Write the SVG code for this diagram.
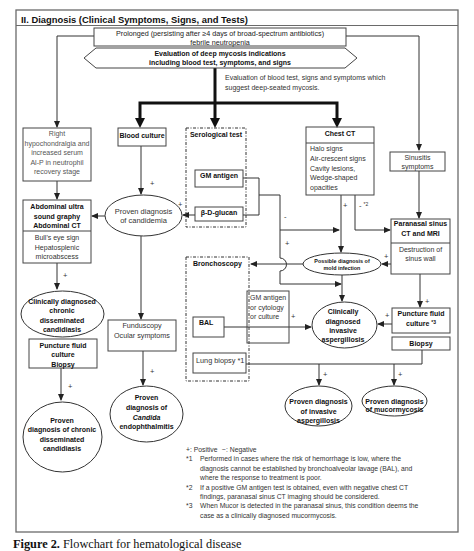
<svg xmlns="http://www.w3.org/2000/svg" width="474" height="551" viewBox="0 0 474 551">
<style>
text{font-family:"Liberation Sans",Arial,sans-serif;font-size:7px;fill:#333}
.b{font-weight:bold;fill:#111}
.c{text-anchor:middle}
.box{fill:none;stroke:#444;stroke-width:1}
.dash{fill:none;stroke:#333;stroke-width:1;stroke-dasharray:3,1.5,1,1.5}
.ell{fill:#fff;stroke:#333;stroke-width:1}
.ln{fill:none;stroke:#333;stroke-width:1}
.ar{marker-end:url(#ah)}
.thick{fill:none;stroke:#111;stroke-width:3}
.pm{font-size:7.5px}
.lg{font-size:6.8px}
</style>
<defs>
<marker id="ah" markerUnits="userSpaceOnUse" markerWidth="7" markerHeight="6" refX="6" refY="3" orient="auto"><path d="M0,0 L7,3 L0,6 z" fill="#222"/></marker>
<marker id="ahb" markerUnits="userSpaceOnUse" markerWidth="10" markerHeight="10" refX="6" refY="5" orient="auto"><path d="M0,0 L10,5 L0,10 z" fill="#111"/></marker>
</defs>
<rect x="0" y="0" width="474" height="551" fill="#fff"/>
<g id="frame">
<rect x="16" y="10" width="442" height="522" fill="#fff" stroke="#6a6a6a" stroke-width="1.3"/>
<line x1="16" y1="25.5" x2="458" y2="25.5" stroke="#6a6a6a" stroke-width="1"/>
<text x="21" y="22.5" class="b" style="font-size:9.4px">II. Diagnosis (Clinical Symptoms, Signs, and Tests)</text>
</g>
<g id="connectors">
<path class="thick" d="M215,68 V103"/>
<path class="thick" d="M215,103 H140 V124" marker-end="url(#ahb)"/>
<path class="thick" d="M215,103 H337 V124" marker-end="url(#ahb)"/>
<path class="thick" d="M215,103 V124" marker-end="url(#ahb)"/>
<path class="ln ar" d="M94,36 H57 V127"/>
<path class="ln ar" d="M346,36 H419 V150"/>
<path class="ln ar" d="M57,181 V199"/>
<path class="ln ar" d="M141,146 V194"/>
<path class="ln ar" d="M195,215 H183"/>
<path class="ln ar" d="M105,216 H92"/>
<path class="ln ar" d="M141,236 V319"/>
<path class="ln ar" d="M143,351 V385"/>
<path class="ln ar" d="M57,263 V289"/>
<path class="ln ar" d="M61,368 V400"/>
<path class="ln" d="M243,178 H259 V215 H243"/>
<path class="ln ar" d="M259,195 H280 V258 A6.5,6.5 0 0 1 280,271 V284 H341"/>
<path class="ln ar" d="M280,230 H339"/>
<path class="ln ar" d="M341,195 V252"/>
<path class="ln ar" d="M355,195 V230 H390"/>
<path class="ln ar" d="M419,171 V218"/>
<path class="ln ar" d="M391,264 H382"/>
<path class="ln ar" d="M303,264 H251"/>
<path class="ln ar" d="M342,275 V301"/>
<path class="ln ar" d="M420,274 V307"/>
<path class="ln ar" d="M392,324 H378"/>
<path class="ln ar" d="M224,327 H311"/>
<path class="ln" d="M246,364 H422 V350"/>
<path class="ln ar" d="M319,364 V385"/>
<path class="ln ar" d="M394,364 V385"/>
<text x="150" y="186" class="pm">+</text>
<text x="178" y="207" class="pm">+</text>
<text x="63" y="278" class="pm">+</text>
<text x="68" y="389" class="pm">+</text>
<text x="150" y="374" class="pm">+</text>
<text x="284" y="219" class="pm">-</text>
<text x="285" y="246" class="pm">+</text>
<text x="343" y="208" class="pm">+</text>
<text x="359" y="208" class="pm">- <tspan style="font-size:5px" dy="-2">*2</tspan></text>
<text x="384" y="259" class="pm">+</text>
<text x="425" y="304" class="pm">+</text>
<text x="385" y="318" class="pm">+</text>
<text x="291" y="319" class="pm">+</text>
<text x="323" y="377" class="pm">+</text>
<text x="398" y="377" class="pm">+</text>
</g>
<g id="n-prolonged">
<rect class="box" x="94" y="28" width="252" height="18"/>
<text x="220" y="36" class="c" style="fill:#222;font-size:7.2px">Prolonged (persisting after ≥4 days of broad-spectrum antibiotics)</text>
<text x="220" y="44.5" class="c" style="fill:#222;font-size:7.2px">febrile neutropenia</text>
</g>
<g id="n-evaluation">
<polygon class="box" points="84,58 96,48 345,48 357,58 345,68 96,68" fill="#fff"/>
<text x="220" y="56" class="c b">Evaluation of deep mycosis indications</text>
<text x="220" y="65" class="c b">including blood test, symptoms, and signs</text>
</g>
<g id="n-evalnote">
<text x="225" y="80">Evaluation of blood test, signs and symptoms which</text>
<text x="225" y="90">suggest deep-seated mycosis.</text>
</g>
<g id="n-right">
<rect class="box" x="23" y="128" width="68" height="53"/>
<text x="57" y="135.8" class="c" style="fill:#555">Right</text>
<text x="57" y="145.8" class="c" style="fill:#555">hypochondralgia and</text>
<text x="57" y="155.2" class="c" style="fill:#555">increased serum</text>
<text x="57" y="164.8" class="c" style="fill:#555">Al-P in neutrophil</text>
<text x="57" y="174.2" class="c" style="fill:#555">recovery stage</text>
</g>
<g id="n-abdominal">
<rect class="box" x="23" y="200" width="68" height="63"/>
<line class="box" x1="23" y1="231" x2="91" y2="231"/>
<text x="57" y="208.5" class="c b">Abdominal ultra</text>
<text x="57" y="218.5" class="c b">sound graphy</text>
<text x="57" y="228" class="c b">Abdominal CT</text>
<text x="57" y="240" class="c">Bull's eye sign</text>
<text x="57" y="250" class="c">Hepatosplenic</text>
<text x="57" y="258.5" class="c">microabscess</text>
</g>
<g id="n-bloodculture">
<rect class="box" x="118" y="128" width="48" height="18"/>
<text x="142" y="137.5" class="c b">Blood culture</text>
</g>
<g id="n-serological">
<rect class="dash" x="186" y="128" width="60" height="99"/>
<text x="216" y="137" class="c b">Serological test</text>
</g>
<g id="n-gmantigen">
<rect class="box" x="195" y="170" width="48" height="17"/>
<text x="219" y="178" class="c b">GM antigen</text>
</g>
<g id="n-bdglucan">
<rect class="box" x="195" y="207" width="48" height="14"/>
<text x="219" y="214.5" class="c b">β-D-glucan</text>
</g>
<g id="n-chestct">
<rect class="box" x="306" y="127" width="68" height="68"/>
<line class="box" x1="306" y1="143" x2="374" y2="143"/>
<text x="340" y="136" class="c b">Chest CT</text>
<text x="310" y="151">Halo signs</text>
<text x="310" y="161">Air-crescent signs</text>
<text x="310" y="170.5">Cavity lesions,</text>
<text x="310" y="180">Wedge-shaped</text>
<text x="310" y="189.5">opacities</text>
</g>
<g id="n-sinusitis">
<rect class="box" x="390" y="152" width="55" height="19"/>
<text x="417.5" y="159.5" class="c">Sinusitis</text>
<text x="417.5" y="168.5" class="c">symptoms</text>
</g>
<g id="n-paranasal">
<rect class="box" x="391" y="219" width="59" height="55"/>
<line class="box" x1="391" y1="243" x2="450" y2="243"/>
<text x="420.5" y="226" class="c b">Paranasal sinus</text>
<text x="420.5" y="236" class="c b">CT and MRI</text>
<text x="420.5" y="252" class="c">Destruction of</text>
<text x="420.5" y="261" class="c">sinus wall</text>
</g>
<g id="n-candidemia">
<ellipse class="ell" cx="143.5" cy="215.5" rx="38.5" ry="20.5"/>
<text x="143.5" y="214" class="c" style="font-size:7.5px">Proven diagnosis</text>
<text x="143.5" y="223" class="c" style="font-size:7.5px">of candidemia</text>
</g>
<g id="n-possible">
<ellipse class="ell" cx="342" cy="264" rx="39" ry="11"/>
<text x="342" y="263" class="c b" style="font-size:5.4px">Possible diagnosis of</text>
<text x="342" y="269.5" class="c b" style="font-size:5.4px">mold infection</text>
</g>
<g id="n-bronchoscopy">
<rect class="dash" x="186" y="257" width="63" height="124"/>
<text x="193" y="266" class="b">Bronchoscopy</text>
</g>
<g id="n-bal">
<rect class="box" x="193" y="317" width="31" height="20"/>
<text x="199" y="325" class="b">BAL</text>
</g>
<g id="n-gmcyto">
<rect class="box" x="247" y="291" width="42" height="52"/>
<text x="250" y="300">GM antigen</text>
<text x="250" y="310">or cytology</text>
<text x="250" y="319">or culture</text>
</g>
<g id="n-lungbiopsy">
<rect class="box" x="193" y="353" width="53" height="20"/>
<text x="196" y="362.5" style="font-size:7.3px">Lung biopsy *1</text>
</g>
<g id="n-clinasp">
<ellipse class="ell" cx="344.5" cy="325" rx="32.5" ry="23"/>
<text x="343" y="314" class="c b">Clinically</text>
<text x="343" y="323.5" class="c b">diagnosed</text>
<text x="343" y="333" class="c b">invasive</text>
<text x="343" y="342" class="c b">aspergillosis</text>
</g>
<g id="n-puncture-r">
<rect class="box" x="392" y="308" width="58" height="25"/>
<text x="421" y="316" class="c b">Puncture fluid</text>
<text x="421" y="326" class="c b">culture <tspan style="font-size:5px" dy="-2">*3</tspan></text>
</g>
<g id="n-biopsy">
<rect class="box" x="392" y="337" width="58" height="13"/>
<text x="421" y="346" class="c b">Biopsy</text>
</g>
<g id="n-provenasp">
<ellipse class="ell" cx="318.5" cy="406" rx="33.5" ry="20"/>
<text x="318.5" y="404" class="c b">Proven diagnosis</text>
<text x="318.5" y="413.5" class="c b">of invasive</text>
<text x="318.5" y="422.5" class="c b">aspergillosis</text>
</g>
<g id="n-provenmucor">
<ellipse class="ell" cx="394.5" cy="401" rx="32.5" ry="15"/>
<text x="394.5" y="403.5" class="c b">Proven diagnosis</text>
<text x="394.5" y="411.5" class="c b">of mucormycosis</text>
</g>
<g id="n-funduscopy">
<rect class="box" x="108" y="320" width="68" height="31"/>
<text x="142" y="328" class="c" style="font-size:7.2px">Funduscopy</text>
<text x="142" y="338" class="c" style="font-size:7.2px">Ocular symptoms</text>
</g>
<g id="n-candida">
<ellipse class="ell" cx="146.5" cy="414" rx="36.5" ry="28"/>
<text x="146.5" y="399.5" class="c b">Proven</text>
<text x="146.5" y="409.5" class="c b">diagnosis of</text>
<text x="146.5" y="419.5" class="c b" font-style="italic">Candida</text>
<text x="146.5" y="428.5" class="c b">endophthalmitis</text>
</g>
<g id="n-clinchronic">
<ellipse class="ell" cx="62.5" cy="314" rx="41.5" ry="23"/>
<text x="62" y="303.5" class="c b">Clinically diagnosed</text>
<text x="62" y="313" class="c b">chronic</text>
<text x="62" y="322.5" class="c b">disseminated</text>
<text x="62" y="332" class="c b">candidiasis</text>
</g>
<g id="n-puncture-l">
<rect class="box" x="29" y="339" width="68" height="29"/>
<text x="63" y="347.5" class="c b">Puncture fluid</text>
<text x="63" y="357" class="c b">culture</text>
<text x="63" y="366.5" class="c b">Biopsy</text>
</g>
<g id="n-provenchronic">
<ellipse class="ell" cx="62.5" cy="437" rx="39.5" ry="35"/>
<text x="62" y="422.5" class="c b">Proven</text>
<text x="62" y="431.5" class="c b">diagnosis of chronic</text>
<text x="62" y="441.5" class="c b">disseminated</text>
<text x="62" y="450.5" class="c b">candidiasis</text>
</g>
<g id="legend">
<text x="186" y="451.5" class="lg">+: Positive<tspan x="222">−: Negative</tspan></text>
<text x="186" y="460.6" class="lg">*1</text>
<text x="200" y="460.6" class="lg">Performed in cases where the risk of hemorrhage is low, where the</text>
<text x="200" y="470.6" class="lg">diagnosis cannot be established by bronchoalveolar lavage (BAL), and</text>
<text x="200" y="479.6" class="lg">where the response to treatment is poor.</text>
<text x="186" y="489.6" class="lg">*2</text>
<text x="200" y="489.6" class="lg">If a positive GM antigen test is obtained, even with negative chest CT</text>
<text x="200" y="499" class="lg">findings, paranasal sinus CT imaging should be considered.</text>
<text x="186" y="508.3" class="lg">*3</text>
<text x="200" y="508.3" class="lg">When Mucor is detected in the paranasal sinus, this condition deems the</text>
<text x="200" y="518.3" class="lg">case as a clinically diagnosed mucormycosis.</text>
</g>
<g id="caption">
<text x="13" y="547.5" style="font-family:'Liberation Serif','Times New Roman',serif;font-size:12.3px;fill:#111"><tspan font-weight="bold">Figure 2.</tspan> Flowchart for hematological disease</text>
</g>
</svg>
